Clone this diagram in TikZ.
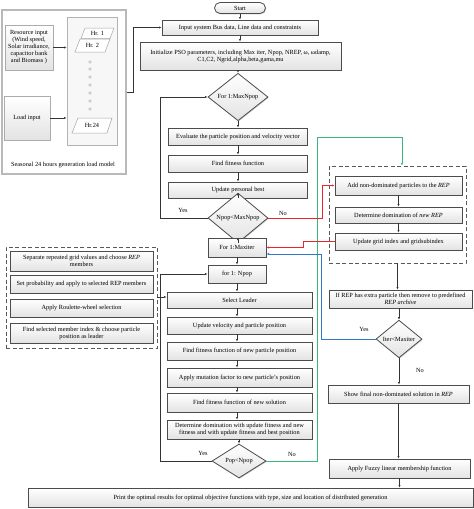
\documentclass[tikz,border=0pt]{standalone}
\usepackage{fontspec}
\setmainfont{Liberation Serif}
\usetikzlibrary{shapes.geometric,arrows.meta,shadows,calc}
\newcommand{\fsz}{\fontsize{6.3}{7}\selectfont}
\definecolor{rl}{HTML}{E8252F}
\definecolor{gl}{HTML}{3DB57A}
\definecolor{bl}{HTML}{2F78C4}
\begin{document}
\begin{tikzpicture}[x=1pt,y=-1pt,
  box/.style={draw=black!70, line width=0.8pt, top color=white, bottom color=gray!22,
    drop shadow={shadow xshift=0.8pt, shadow yshift=-0.8pt, fill=black!40},
    inner sep=1pt, font=\fsz, align=center},
  dia/.style={box, shape=diamond, inner sep=0.3pt},
  lbox/.style={draw=gray!65, line width=0.8pt, top color=white, bottom color=gray!22, inner sep=1pt, font=\fsz, align=center},
  dgrp/.style={draw=black!65, line width=0.9pt, dash pattern=on 4pt off 2.5pt},
  arr/.style={draw=black!80, line width=0.5pt, -{Latex[length=2.6pt,width=2.2pt]}},
  lab/.style={font=\fsz},
  para/.style={draw=gray!70, line width=0.5pt, fill=white},
]
\useasboundingbox (0,0) rectangle (474,509);

% ---------- top-left seasonal model ----------
\node[draw=gray!55, line width=1.3pt, minimum width=124, minimum height=164] (outer) at (64,92) {};
\node[lbox, minimum width=48, minimum height=45] (res) at (29,47.5) {Resource input\\(Wind speed,\\Solar irradiance,\\capacitor bank\\and Biomass )};
\node[lbox, minimum width=46, minimum height=44] (load) at (27,118) {Load input};
\node[draw=gray!60, line width=0.8pt, fill=gray!6, minimum width=50, minimum height=128] (inner) at (92,81) {};
\draw[para] (85,28) -- (114,28) -- (110,38.5) -- (81,38.5) -- cycle;
\node[lab] (h1) at (97.5,33.2) {Hr. 1};
\draw[para] (80,39) -- (110,39) -- (105,52) -- (75,52) -- cycle;
\node[lab] (h2) at (92.5,45.5) {Hr. 2};
\foreach \yy in {62,69,77,85,93,101,109} \draw[gray!70, line width=0.4pt] (90,\yy) circle (1.4);
\draw[para] (78,118) -- (112,118) -- (107,133) -- (72,133) -- cycle;
\node[lab] (h24) at (92,125.5) {Hr.24};
\node[lab] (cap) at (63,165) {Seasonal 24 hours generation load model};
\draw[arr] (res.east) -- (res.east -| inner.west);
\draw[arr] (load.east) -- (load.east -| inner.west);

% ---------- main column ----------
\node[box, rounded corners=5.5pt, minimum width=51, minimum height=11] (start) at (240,8) {Start};
\node[box, minimum width=156, minimum height=15] (input) at (240,27.5) {Input system Bus data, Line data and constraints};
\node[box, minimum width=201, minimum height=28] (init) at (240.5,56) {Initialize PSO parameters, including Max iter, Npop, NREP, ω, ωdamp,\\C1,C2, Ngrid,alpha,beta,gama,mu};
\node[dia, minimum width=60, minimum height=38] (maxnpopd) at (238,97) {For 1:MaxNpop};
\node[box, minimum width=139, minimum height=17] (eval) at (238,136.5) {Evaluate the particle position and velocity vector};
\node[box, minimum width=139, minimum height=17] (fit) at (238,163.5) {Find fitness function};
\node[box, minimum width=139, minimum height=16] (upd) at (238,190) {Update personal best};
\node[dia, minimum width=60, minimum height=30] (npopd) at (238,218) {Npop<MaxNpop};
\node[box, minimum width=58, minimum height=19] (maxiter) at (237,247.5) {For 1:Maxiter};
\node[box, minimum width=58, minimum height=18] (npop) at (237,274) {for 1: Npop};
\node[box, minimum width=145, minimum height=16] (select) at (239.5,300) {Select Leader};
\node[box, minimum width=145, minimum height=17] (updv) at (239.5,325.5) {Update velocity and particle position};
\node[box, minimum width=145, minimum height=18] (fitnew) at (239.5,351) {Find fitness function of new particle position};
\node[box, minimum width=145, minimum height=19] (mut) at (239.5,377.5) {Apply mutation factor to new particle's position};
\node[box, minimum width=145, minimum height=19] (fitsol) at (239.5,402.5) {Find fitness function of new solution};
\node[box, minimum width=145, minimum height=19] (det) at (239.5,429.5) {Determine domination with update fitness and new\\fitness and with update fitness and best position};
\node[dia, minimum width=54, minimum height=28] (popd) at (239,461) {Pop<Npop};

% ---------- right column ----------
\node[dgrp, minimum width=137, minimum height=97] (rgrp) at (397.5,214.5) {};
\node[box, minimum width=127, minimum height=19] (add) at (398.5,185.5) {Add non-dominated particles to the \textit{REP}};
\node[box, minimum width=127, minimum height=16] (detrep) at (398.5,215) {Determine domination of \textit{new REP}};
\node[box, minimum width=127, minimum height=17] (updgrid) at (398.5,241.5) {Update grid index and gridsubindex};
\node[box, minimum width=143, minimum height=18] (rep) at (400.5,299) {If REP has extra particle then remove to predefined\\\textit{REP archive}};
\node[dia, minimum width=46, minimum height=36] (iterd) at (399,339) {Iter<Maxiter};
\node[box, minimum width=141, minimum height=18] (show) at (398.5,394) {Show final non-dominated solution in \textit{REP}};
\node[box, minimum width=141, minimum height=19] (fuzzy) at (399.5,468.5) {Apply Fuzzy linear membership function};
\node[box, minimum width=445, minimum height=19] (print) at (250.5,497.5) {Print the optimal results for optimal objective functions with type, size and location of distributed generation};

% ---------- left group ----------
\node[dgrp, minimum width=151, minimum height=101] (lgrp) at (81.5,297.5) {};
\node[box, minimum width=143, minimum height=20] (sep) at (81.5,261) {Separate repeated grid values and choose \textit{REP}\\members};
\node[box, minimum width=143, minimum height=18] (setp) at (81.5,284) {Set probability and apply to selected REP members};
\node[box, minimum width=143, minimum height=18] (roul) at (81.5,308) {Apply Roulette-wheel selection};
\node[box, minimum width=143, minimum height=20] (findsel) at (81.5,333) {Find selected member index \& choose particle\\position as leader};

% ---------- connectors ----------
\draw[arr] (outer.east) -- ++(7,0) |- (input.west);
\draw[arr] (start.south) -- (start.south |- input.north);
\draw[arr] (input.south) -- (input.south |- init.north);
\draw[arr] (init.south -| maxnpopd.north) -- (maxnpopd.north);
\draw[arr] (maxnpopd.south) -- (maxnpopd.south |- eval.north);
\draw[arr] (eval.south) -- (eval.south |- fit.north);
\draw[arr] (fit.south) -- (fit.south |- upd.north);
\draw[arr] (upd.south) -- (npopd.north);
\draw[arr] (npopd.south) -- (npopd.south |- maxiter.north);
\draw[arr] (maxiter.south) -- (maxiter.south |- npop.north);
\draw[arr] (npop.south) -- (npop.south |- select.north);
\draw[arr] (select.south -| npop.south) -- (npop.south |- updv.north);
\draw[arr] (updv.south -| npop.south) -- (npop.south |- fitnew.north);
\draw[arr] (fitnew.south -| npop.south) -- (npop.south |- mut.north);
\draw[arr] (mut.south -| npop.south) -- (npop.south |- fitsol.north);
\draw[arr] (fitsol.south -| npop.south) -- (npop.south |- det.north);
\draw[arr] (det.south -| popd.north) -- (popd.north);
% loops
\draw[arr] (npopd.west) -| ([xshift=-47pt]maxnpopd.west) -- (maxnpopd.west);
\draw[arr] (popd.west) -| ([xshift=-47pt]npop.west) -- (npop.west);
\draw[arr] (lgrp.east |- 0,297) -- (select.west |- 0,297);
% right column
\draw[arr] (add.south) -- (detrep.north);
\draw[arr] (detrep.south) -- (updgrid.north);
\draw[arr] (rgrp.south) -- (rgrp.south |- rep.north);
\draw[arr] (rep.south -| iterd.north) -- (iterd.north);
\draw[arr] (iterd.south) -- (iterd.south |- show.north);
\draw[arr] (show.south) -- (show.south |- fuzzy.north);
\draw[arr] (fuzzy.south) -- (fuzzy.south |- print.north);
% coloured
\coordinate (g1) at (317,137);
\draw[arr, draw=gl, line width=0.9pt] (popd.east) -| (g1) -| ([xshift=4.5pt]rgrp.north);
\draw[arr, draw=rl, line width=0.9pt] (npopd.east) -| ([xshift=-12pt]add.west) -- (add.west);
\draw[arr, draw=rl, line width=0.9pt] (updgrid.west) -- ++(-31,0) |- (maxiter.east);
\coordinate (b1) at (321,254);
\draw[arr, draw=bl, line width=0.9pt] (iterd.west) -| (b1) -- (b1 -| maxiter.east);

% labels
\node[lab] at (183,210) {Yes};
\node[lab] at (283,213) {No};
\node[lab] at (364,329) {Yes};
\node[lab] at (420,370) {No};
\node[lab] at (203,453) {Yes};
\node[lab] at (292,454) {No};
\end{tikzpicture}
\end{document}
